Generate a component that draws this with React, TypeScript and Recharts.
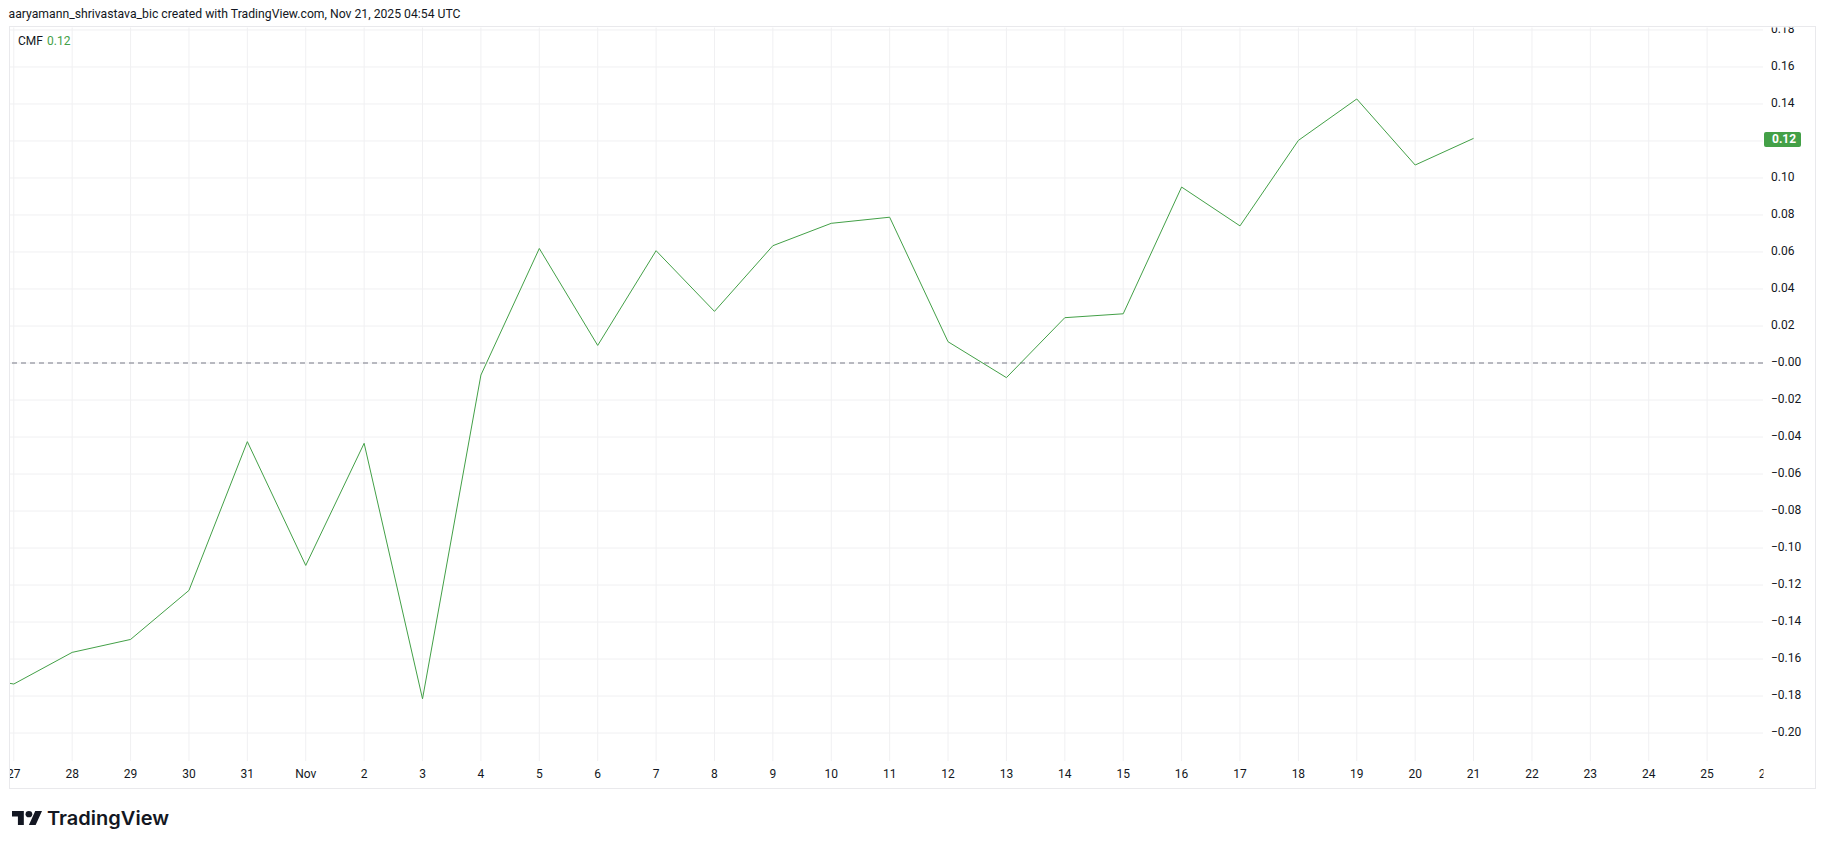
import React from 'react';
import { LineChart, Line, XAxis, YAxis, CartesianGrid, ReferenceLine } from 'recharts';

// ---- data ----
const tickLabels = ['27', '28', '29', '30', '31', 'Nov', '2', '3', '4', '5', '6', '7', '8', '9', '10', '11', '12', '13', '14', '15', '16', '17', '18', '19', '20', '21', '22', '23', '24', '25', '26'];
// first value = Oct 26 (just off the left edge), then Oct 27 ... Nov 21
const cmfValues = [-0.168, -0.1735, -0.1564, -0.1494, -0.1229, -0.0425, -0.1094, -0.0434, -0.1815, -0.0065, 0.0619, 0.0095, 0.0607, 0.0279, 0.0634, 0.0755, 0.0788, 0.0115, -0.0079, 0.0245, 0.0266, 0.0951, 0.0741, 0.1203, 0.1427, 0.107, 0.1214];
const yTicks = [-0.2, -0.18, -0.16, -0.14, -0.12, -0.1, -0.08, -0.06, -0.04, -0.02, 0, 0.02, 0.04, 0.06, 0.08, 0.1, 0.12, 0.14, 0.16, 0.18];
const headerText = 'aaryamann_shrivastava_bic created with TradingView.com, Nov 21, 2025 04:54 UTC';
const indicatorName = 'CMF';

const data = cmfValues.map((v, k) => ({ i: k - 1, v }));
const xTicks = tickLabels.map((_, k) => k);
const gridX = tickLabels.slice(0, 30).map((_, k) => k);
const lastValue = cmfValues[cmfValues.length - 1];

const W = 1825;
const H = 849;
const GREEN = '#43A047';
const TEXT = '#131722';
const FONT = 'Roboto, "Noto Sans", sans-serif';

const fmt = (v: number) => {
  const s = Math.abs(v).toFixed(2);
  return v <= 0 ? '\u2212' + s : s;
};

const YTick = (props: any) => {
  const { x, y, payload } = props;
  const v = payload?.value as number;
  if (Math.abs(v - lastValue) < 0.008) return <g />;
  return (
    <text x={x} y={y} dy="0.22em" textAnchor="start" fontFamily={FONT} fontSize={12} fill={TEXT}>
      {fmt(v)}
    </text>
  );
};

const PriceLabel = (props: any) => {
  const vb = props.viewBox || {};
  const x = vb.x + vb.width + 1;
  const y = vb.y;
  return (
    <g>
      <rect x={x} y={y - 6.5} width={37} height={15} rx={2} fill={GREEN} />
      <text x={x + 8} y={y} dy="0.4em" fontFamily={FONT} fontSize={12} fontWeight={700} fill="#ffffff">
        {lastValue.toFixed(2)}
      </text>
    </g>
  );
};

export default function App() {
  return (
    <div style={{ position: 'absolute', left: 0, top: 0, width: W, height: H, background: '#ffffff' }}>
      <LineChart
        width={W}
        height={H}
        data={data}
        margin={{ top: 27, right: 10, bottom: 61, left: 10 }}
      >
        <CartesianGrid
          stroke="#f0f0f2"
          strokeWidth={1}
          verticalValues={gridX}
          horizontalValues={yTicks}
        />
        <XAxis
          type="number"
          dataKey="i"
          domain={[-0.065, 29.957]}
          allowDataOverflow
          ticks={xTicks}
          interval={0}
          tickFormatter={(i: number) => tickLabels[i] ?? ''}
          axisLine={false}
          tickLine={false}
          height={27}
          tick={{ fill: TEXT, fontSize: 12, fontFamily: FONT }}
        />
        <YAxis
          orientation="right"
          type="number"
          domain={[-0.2151, 0.1816]}
          allowDataOverflow
          ticks={yTicks}
          interval={0}
          axisLine={false}
          tickLine={false}
          width={52}
          tick={<YTick />}
        />
        <ReferenceLine y={0} stroke="#787B86" strokeDasharray="5 4" strokeWidth={1} />
        <Line
          type="linear"
          dataKey="v"
          stroke={GREEN}
          strokeWidth={1}
          dot={false}
          activeDot={false}
          isAnimationActive={false}
        />
        <ReferenceLine y={lastValue} stroke="none" label={<PriceLabel />} />
      </LineChart>
      <svg
        width={W}
        height={H}
        style={{ position: 'absolute', left: 0, top: 0, pointerEvents: 'none' }}
      >
        <rect x={0} y={0} width={W} height={27.5} fill="#ffffff" />
        <rect x={0} y={26} width={9.5} height={763} fill="#ffffff" />
        <rect x={1763.5} y={762} width={52} height={27} fill="#ffffff" />
        <rect x={9.5} y={26.5} width={1806} height={762} fill="none" stroke="#e9e9ec" strokeWidth={1} />
        <text x={8.5} y={17.5} fontFamily={FONT} fontSize={13} fill={TEXT} textLength={452} lengthAdjust="spacingAndGlyphs">
          {headerText}
        </text>
        <text x={18} y={45} fontFamily={FONT} fontSize={12} fill={TEXT}>{indicatorName}</text>
        <text x={47} y={45} fontFamily={FONT} fontSize={12} fill={GREEN}>{lastValue.toFixed(2)}</text>
        <g transform="translate(12 807.9) scale(0.845 0.78)" fill="#131722">
          <path d="M14 22H7V11H0V4h14v18zM28 22h-8l7.5-18h8L28 22z" />
          <circle cx="20" cy="8" r="4" />
        </g>
        <text x={47} y={825} fontFamily='Inter, Roboto, sans-serif' fontSize={19} fontWeight={600} fill="#131722" textLength={122} lengthAdjust="spacingAndGlyphs">
          TradingView
        </text>
      </svg>
    </div>
  );
}
